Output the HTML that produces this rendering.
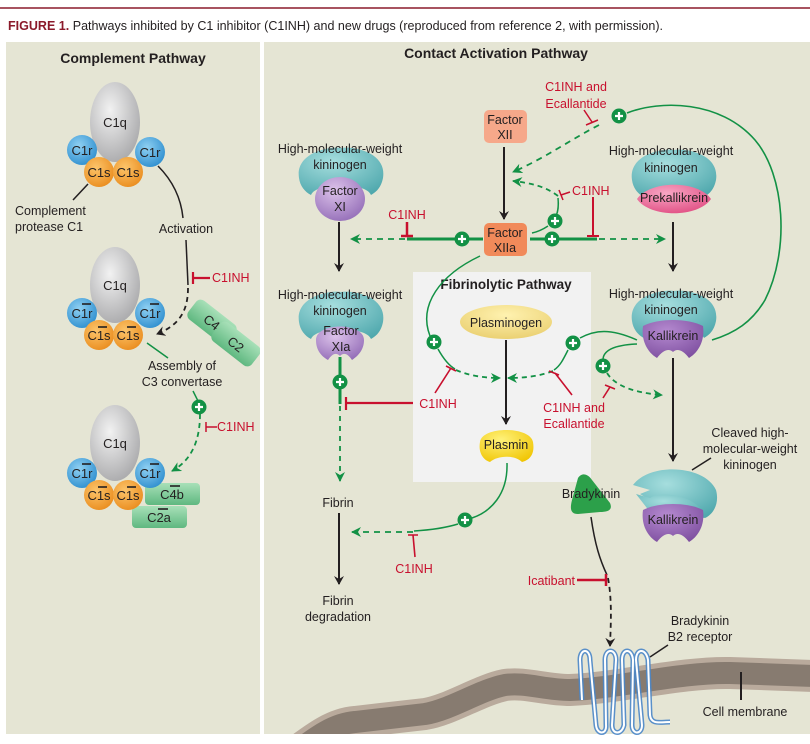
<!DOCTYPE html>
<html><head><meta charset="utf-8"><style>
html,body{margin:0;padding:0;background:#fff;}
svg{display:block;}
text{font-family:"Liberation Sans",sans-serif;fill:#231f20;}
.r{fill:#c8102e;}
</style></head><body>
<svg width="810" height="744" viewBox="0 0 810 744" xmlns="http://www.w3.org/2000/svg">
<defs>
<marker id="ak" markerWidth="10" markerHeight="10" refX="8" refY="5" orient="auto" markerUnits="userSpaceOnUse"><path d="M0,0 L9,5 L0,10 L3,5 Z" fill="#231f20"/></marker>
<marker id="ag" markerWidth="12" markerHeight="10" refX="9" refY="5" orient="auto" markerUnits="userSpaceOnUse"><path d="M0,0 L10,5 L0,10 L3,5 Z" fill="#129145"/></marker>
<radialGradient id="gq" cx="0.4" cy="0.35" r="0.7"><stop offset="0" stop-color="#f2f2f2"/><stop offset="1" stop-color="#a9a9ab"/></radialGradient>
<radialGradient id="gb" cx="0.4" cy="0.35" r="0.7"><stop offset="0" stop-color="#8fd0f2"/><stop offset="1" stop-color="#2f8fcf"/></radialGradient>
<radialGradient id="go" cx="0.4" cy="0.35" r="0.7"><stop offset="0" stop-color="#fcc46a"/><stop offset="1" stop-color="#ea8d1f"/></radialGradient>
<radialGradient id="gt" cx="0.4" cy="0.3" r="0.8"><stop offset="0" stop-color="#a6dede"/><stop offset="1" stop-color="#4fa8ad"/></radialGradient>
<radialGradient id="gp" cx="0.4" cy="0.3" r="0.8"><stop offset="0" stop-color="#dcc2ea"/><stop offset="1" stop-color="#9069b5"/></radialGradient>
<radialGradient id="gk" cx="0.4" cy="0.3" r="0.8"><stop offset="0" stop-color="#b58ad0"/><stop offset="1" stop-color="#7c4d9e"/></radialGradient>
<radialGradient id="gpk" cx="0.4" cy="0.3" r="0.8"><stop offset="0" stop-color="#f7a6c4"/><stop offset="1" stop-color="#e04a80"/></radialGradient>
<radialGradient id="gy" cx="0.5" cy="0.3" r="0.8"><stop offset="0" stop-color="#fff2b0"/><stop offset="1" stop-color="#e8cc6a"/></radialGradient>
<radialGradient id="gyy" cx="0.4" cy="0.3" r="0.8"><stop offset="0" stop-color="#fff27a"/><stop offset="1" stop-color="#f0c400"/></radialGradient>
<linearGradient id="gg" x1="0" y1="0" x2="0" y2="1"><stop offset="0" stop-color="#a8e0b8"/><stop offset="1" stop-color="#5fb880"/></linearGradient>
<g id="plus"><circle r="7.5" fill="#129145"/><path d="M-4,0 H4 M0,-4 V4" stroke="#fff" stroke-width="2.2"/></g>
<g id="teal"><path d="M-42,8 C-46,-18 -10,-24 0,-22 C12,-24 46,-18 42,8 C40,18 35,22 30,25 C25,12 -25,12 -30,25 C-36,22 -41,16 -42,8 Z" fill="url(#gt)"/></g>
<g id="kal"><path d="M-30,-14 C-15,-22 15,-22 30,-14 C32,0 26,12 16,18 C10,10 4,8 0,12 C-4,8 -10,10 -16,18 C-26,12 -32,0 -30,-14 Z" fill="url(#gk)"/></g>
</defs>

<line x1="0" y1="8" x2="810" y2="8" stroke="#8b1a2b" stroke-width="1.5"/>
<text x="8" y="30" font-size="13" textLength="655" lengthAdjust="spacingAndGlyphs"><tspan font-weight="bold" fill="#8b1a2b">FIGURE 1.</tspan> Pathways inhibited by C1 inhibitor (C1INH) and new drugs (reproduced from reference 2, with permission).</text>

<rect x="6" y="42" width="254" height="692" fill="#e5e5d4"/>
<rect x="264" y="42" width="546" height="692" fill="#e5e5d4"/>
<text x="133" y="63" font-size="14" font-weight="bold" text-anchor="middle">Complement Pathway</text>
<text x="496" y="58" font-size="14" font-weight="bold" text-anchor="middle">Contact Activation Pathway</text>

<g font-size="13" text-anchor="middle">
<ellipse cx="115" cy="122" rx="25" ry="40" fill="url(#gq)"/><text x="115" y="127">C1q</text>
<circle cx="82" cy="150" r="15" fill="url(#gb)"/><circle cx="150" cy="152" r="15" fill="url(#gb)"/>
<circle cx="99" cy="172" r="15" fill="url(#go)"/><circle cx="128" cy="172" r="15" fill="url(#go)"/>
<text x="82" y="155">C1r</text><text x="150" y="157">C1r</text><text x="99" y="177">C1s</text><text x="128" y="177">C1s</text>

<ellipse cx="115" cy="285" rx="25" ry="38" fill="url(#gq)"/><text x="115" y="290">C1q</text>
<circle cx="82" cy="313" r="15" fill="url(#gb)"/><circle cx="150" cy="313" r="15" fill="url(#gb)"/>
<circle cx="99" cy="335" r="15" fill="url(#go)"/><circle cx="128" cy="335" r="15" fill="url(#go)"/>
<text x="82" y="318">C1r</text><text x="150" y="318">C1r</text><text x="99" y="340">C1s</text><text x="128" y="340">C1s</text>
<g stroke="#231f20" stroke-width="1.6"><line x1="82" y1="304" x2="91" y2="304"/><line x1="150" y1="304" x2="159" y2="304"/><line x1="98" y1="327" x2="107" y2="327"/><line x1="127" y1="327" x2="136" y2="327"/></g>

<ellipse cx="115" cy="443" rx="25" ry="38" fill="url(#gq)"/><text x="115" y="448">C1q</text>
<rect x="145" y="483" width="55" height="22" rx="4" fill="url(#gg)"/>
<rect x="132" y="506" width="55" height="22" rx="4" fill="url(#gg)"/>
<circle cx="82" cy="473" r="15" fill="url(#gb)"/><circle cx="150" cy="473" r="15" fill="url(#gb)"/>
<circle cx="99" cy="495" r="15" fill="url(#go)"/><circle cx="128" cy="495" r="15" fill="url(#go)"/>
<text x="82" y="478">C1r</text><text x="150" y="478">C1r</text><text x="99" y="500">C1s</text><text x="128" y="500">C1s</text>
<text x="172" y="499">C4b</text><text x="159" y="522">C2a</text>
<g stroke="#231f20" stroke-width="1.6"><line x1="82" y1="464" x2="91" y2="464"/><line x1="150" y1="464" x2="159" y2="464"/><line x1="98" y1="487" x2="107" y2="487"/><line x1="127" y1="487" x2="136" y2="487"/><line x1="170" y1="486" x2="180" y2="486"/><line x1="158" y1="509" x2="168" y2="509"/></g>

<g transform="translate(212,322) rotate(38)"><rect x="-25" y="-12" width="50" height="24" rx="6" fill="url(#gg)"/><text x="0" y="5">C4</text></g>
<g transform="translate(236,344) rotate(38)"><rect x="-25" y="-12" width="50" height="24" rx="6" fill="url(#gg)"/><text x="0" y="5">C2</text></g>
</g>
<line x1="88" y1="184" x2="73" y2="200" stroke="#231f20" stroke-width="1.5"/>
<text x="15" y="215" font-size="12.5">Complement</text><text x="15" y="231" font-size="12.5">protease C1</text>
<path d="M158,166 C172,180 181,198 183,218" fill="none" stroke="#231f20" stroke-width="1.5"/>
<text x="186" y="233" font-size="12.5" text-anchor="middle">Activation</text>
<path d="M186,240 L188,285" fill="none" stroke="#231f20" stroke-width="1.5"/>
<path d="M188,288 C188,310 180,325 157,334" fill="none" stroke="#231f20" stroke-width="1.8" stroke-dasharray="5,4" marker-end="url(#ak)"/>
<path d="M193,272 V284 M193,278 H210" stroke="#c8102e" stroke-width="2.2"/>
<text x="212" y="282" font-size="12.5" class="r">C1INH</text>
<line x1="147" y1="343" x2="168" y2="358" stroke="#129145" stroke-width="1.5"/>
<text x="182" y="370" font-size="12.5" text-anchor="middle">Assembly of</text>
<text x="182" y="386" font-size="12.5" text-anchor="middle">C3 convertase</text>
<line x1="193" y1="391" x2="198" y2="401" stroke="#129145" stroke-width="1.5"/>
<path d="M200,414 C200,440 192,460 172,471" fill="none" stroke="#129145" stroke-width="1.8" stroke-dasharray="5,4" marker-end="url(#ag)"/>
<use href="#plus" x="199" y="407"/>
<path d="M206,422 V432 M206,427 H217" stroke="#c8102e" stroke-width="1.5"/>
<text x="217" y="431" font-size="12.5" class="r">C1INH</text>

<rect x="413" y="272" width="178" height="210" fill="#f2f2f2"/>
<text x="506" y="289" font-size="13.5" font-weight="bold" text-anchor="middle">Fibrinolytic Pathway</text>

<path d="M285,760 C310,742 330,724 355,722 L425,714 C450,710 480,690 505,685 C525,682 545,690 570,690 C620,688 680,672 730,673 L815,676" fill="none" stroke="#b9aa9c" stroke-width="32"/>
<path d="M285,760 C310,742 330,724 355,722 L425,714 C450,710 480,690 505,685 C525,682 545,690 570,690 C620,688 680,672 730,673 L815,676" fill="none" stroke="#877b70" stroke-width="22"/>
<rect x="0" y="734" width="810" height="10" fill="#fff"/>
<rect x="260" y="42" width="4" height="692" fill="#fff"/>
<path d="M582,700 L580,660 C580,648 590,648 590,660 L596,725 C597,735 607,735 606,725 L605,660 C605,648 616,648 616,660 L612,725 C612,735 622,735 624,725 L622,660 C622,648 632,648 633,660 L632,725 C632,735 642,735 642,725 L636,660 C636,648 646,648 648,660 L650,715 C651,725 660,722 670,722" fill="none" stroke="#4a86c8" stroke-width="5" opacity="0.9"/>
<path d="M582,700 L580,660 C580,648 590,648 590,660 L596,725 C597,735 607,735 606,725 L605,660 C605,648 616,648 616,660 L612,725 C612,735 622,735 624,725 L622,660 C622,648 632,648 633,660 L632,725 C632,735 642,735 642,725 L636,660 C636,648 646,648 648,660 L650,715 C651,725 660,722 670,722" fill="none" stroke="#fff" stroke-width="2"/>
<line x1="650" y1="657" x2="668" y2="645" stroke="#231f20" stroke-width="1.5"/>
<text x="700" y="625" font-size="12.5" text-anchor="middle">Bradykinin</text>
<text x="700" y="641" font-size="12.5" text-anchor="middle">B2 receptor</text>
<line x1="741" y1="672" x2="741" y2="700" stroke="#231f20" stroke-width="2"/>
<text x="745" y="716" font-size="12.5" text-anchor="middle">Cell membrane</text>

<rect x="484" y="110" width="43" height="33" rx="5" fill="#f6a88a"/>
<text x="505" y="124" font-size="12.5" text-anchor="middle">Factor</text><text x="505" y="139" font-size="12.5" text-anchor="middle">XII</text>
<line x1="504" y1="147" x2="504" y2="219" stroke="#231f20" stroke-width="2" marker-end="url(#ak)"/>
<rect x="484" y="223" width="43" height="33" rx="5" fill="#f18a5a"/>
<text x="505" y="237" font-size="12.5" text-anchor="middle">Factor</text><text x="505" y="252" font-size="12.5" text-anchor="middle">XIIa</text>

<line x1="407" y1="239" x2="483" y2="239" stroke="#129145" stroke-width="3"/>
<line x1="405" y1="239" x2="351" y2="239" stroke="#129145" stroke-width="1.8" stroke-dasharray="6,5" marker-end="url(#ag)"/>
<line x1="530" y1="239" x2="597" y2="239" stroke="#129145" stroke-width="3"/>
<line x1="599" y1="239" x2="665" y2="239" stroke="#129145" stroke-width="1.8" stroke-dasharray="6,5" marker-end="url(#ag)"/>
<use href="#plus" x="462" y="239"/><use href="#plus" x="552" y="239"/>
<path d="M407,222 V236 M401,236 H413" stroke="#c8102e" stroke-width="2.5"/>
<text x="407" y="219" font-size="12.5" class="r" text-anchor="middle">C1INH</text>
<path d="M593,197 V236 M587,236 H599" stroke="#c8102e" stroke-width="2"/>

<path d="M599,125 C570,140 545,158 513,172" fill="none" stroke="#129145" stroke-width="1.8" stroke-dasharray="6,5" marker-end="url(#ag)"/>
<path d="M558,196 C545,186 530,183 513,181" fill="none" stroke="#129145" stroke-width="1.8" stroke-dasharray="5,4" marker-end="url(#ag)"/>
<path d="M558,198 C559,208 557,214 556,216" fill="none" stroke="#129145" stroke-width="1.5"/>
<path d="M548,226 C542,230 537,232 532,233" fill="none" stroke="#129145" stroke-width="1.5"/>
<use href="#plus" x="555" y="221"/>
<path d="M561,195 L570,192 M559,190 L563,200" stroke="#c8102e" stroke-width="1.5"/>
<text x="572" y="195" font-size="12.5" class="r">C1INH</text>
<path d="M584,110 L592,122 M586,125 L598,120" stroke="#c8102e" stroke-width="1.5"/>
<text x="576" y="91" font-size="12.5" class="r" text-anchor="middle">C1INH and</text>
<text x="576" y="108" font-size="12.5" class="r" text-anchor="middle">Ecallantide</text>
<path d="M627,113 C660,100 720,100 755,140 C785,175 790,250 765,300 C752,322 735,333 712,340" fill="none" stroke="#129145" stroke-width="1.6"/>
<use href="#plus" x="619" y="116"/>

<use href="#teal" x="341" y="170"/>
<text x="340" y="153" font-size="12.5" text-anchor="middle">High-molecular-weight</text>
<text x="340" y="169" font-size="12.5" text-anchor="middle">kininogen</text>
<ellipse cx="340" cy="199" rx="25" ry="22" fill="url(#gp)"/>
<text x="340" y="195" font-size="12.5" text-anchor="middle">Factor</text><text x="340" y="211" font-size="12.5" text-anchor="middle">XI</text>
<line x1="339" y1="222" x2="339" y2="271" stroke="#231f20" stroke-width="2" marker-end="url(#ak)"/>
<use href="#teal" x="341" y="314"/>
<text x="340" y="299" font-size="12.5" text-anchor="middle">High-molecular-weight</text>
<text x="340" y="315" font-size="12.5" text-anchor="middle">kininogen</text>
<path d="M316,340 C316,322 364,322 364,340 C364,350 358,356 352,360 C348,354 344,352 340,356 C336,352 332,354 328,360 C321,356 316,350 316,340 Z" fill="url(#gp)"/>
<text x="341" y="335" font-size="12.5" text-anchor="middle">Factor</text><text x="341" y="351" font-size="12.5" text-anchor="middle">XIa</text>
<line x1="340" y1="357" x2="340" y2="404" stroke="#129145" stroke-width="3"/>
<line x1="340" y1="406" x2="340" y2="481" stroke="#129145" stroke-width="1.8" stroke-dasharray="5,5" marker-end="url(#ag)"/>
<use href="#plus" x="340" y="382"/>
<path d="M346,397 V410 M346,403 H413" stroke="#c8102e" stroke-width="2.2"/>
<text x="438" y="408" font-size="12.5" class="r" text-anchor="middle">C1INH</text>
<text x="338" y="507" font-size="12.5" text-anchor="middle">Fibrin</text>
<line x1="339" y1="513" x2="339" y2="584" stroke="#231f20" stroke-width="2" marker-end="url(#ak)"/>
<text x="338" y="605" font-size="12.5" text-anchor="middle">Fibrin</text>
<text x="338" y="621" font-size="12.5" text-anchor="middle">degradation</text>

<use href="#teal" x="674" y="172"/>
<text x="671" y="155" font-size="12.5" text-anchor="middle">High-molecular-weight</text>
<text x="671" y="172" font-size="12.5" text-anchor="middle">kininogen</text>
<path d="M637,199 C650,180 698,180 711,199 C698,218 650,218 637,199 Z" fill="url(#gpk)"/>
<text x="674" y="202" font-size="12.5" text-anchor="middle">Prekallikrein</text>
<line x1="673" y1="222" x2="673" y2="271" stroke="#231f20" stroke-width="2" marker-end="url(#ak)"/>
<use href="#teal" x="674" y="313"/>
<text x="671" y="298" font-size="12.5" text-anchor="middle">High-molecular-weight</text>
<text x="671" y="314" font-size="12.5" text-anchor="middle">kininogen</text>
<use href="#kal" x="673" y="340"/>
<text x="673" y="340" font-size="12.5" text-anchor="middle">Kallikrein</text>
<line x1="673" y1="358" x2="673" y2="461" stroke="#231f20" stroke-width="2" marker-end="url(#ak)"/>

<path d="M633,485 C650,462 705,465 716,490 C720,505 712,515 705,518 C700,502 680,495 650,500 L640,494 L650,490 L633,485 Z" fill="url(#gt)"/>
<path d="M636,494 L650,498 C660,490 700,495 705,518 L650,512 Z" fill="url(#gt)"/>
<use href="#kal" x="673" y="524"/>
<text x="673" y="524" font-size="12.5" text-anchor="middle">Kallikrein</text>
<line x1="692" y1="470" x2="711" y2="458" stroke="#231f20" stroke-width="1.5"/>
<text x="750" y="437" font-size="12.5" text-anchor="middle">Cleaved high-</text>
<text x="750" y="453" font-size="12.5" text-anchor="middle">molecular-weight</text>
<text x="750" y="469" font-size="12.5" text-anchor="middle">kininogen</text>

<path d="M578,478 C582,472 588,474 592,480 L610,503 C613,510 608,512 600,512 L578,514 C570,514 570,508 572,500 Z" fill="#2ca04a"/>
<text x="591" y="498" font-size="12.5" text-anchor="middle">Bradykinin</text>
<path d="M591,517 C595,545 600,560 607,575" fill="none" stroke="#231f20" stroke-width="1.5"/>
<path d="M608,578 C612,600 611,620 610,646" fill="none" stroke="#231f20" stroke-width="1.8" stroke-dasharray="5,4" marker-end="url(#ak)"/>
<path d="M577,580 H606 M606,574 V586" stroke="#c8102e" stroke-width="2.5"/>
<text x="575" y="585" font-size="12.5" class="r" text-anchor="end">Icatibant</text>

<ellipse cx="506" cy="322" rx="46" ry="17" fill="url(#gy)"/>
<text x="506" y="327" font-size="12.5" text-anchor="middle">Plasminogen</text>
<line x1="506" y1="340" x2="506" y2="424" stroke="#231f20" stroke-width="2" marker-end="url(#ak)"/>
<path d="M480,442 C482,426 530,426 533,442 C535,454 530,460 522,462 C515,455 498,455 490,462 C483,460 478,452 480,442 Z" fill="url(#gyy)"/>
<text x="506" y="449" font-size="12.5" text-anchor="middle">Plasmin</text>
<path d="M480,256 C440,275 418,305 430,336" fill="none" stroke="#129145" stroke-width="1.5"/>
<use href="#plus" x="434" y="342"/>
<path d="M438,349 C443,358 448,365 455,369" fill="none" stroke="#129145" stroke-width="1.5"/>
<path d="M456,370 C470,376 485,378 500,378" fill="none" stroke="#129145" stroke-width="1.8" stroke-dasharray="5,4" marker-end="url(#ag)"/>
<path d="M446,366 L456,371 M451,368 L435,393" stroke="#c8102e" stroke-width="1.6"/>
<path d="M637,340 C610,328 595,330 580,338" fill="none" stroke="#129145" stroke-width="1.5"/>
<use href="#plus" x="573" y="343"/>
<path d="M568,350 C563,360 560,366 554,370" fill="none" stroke="#129145" stroke-width="1.5"/>
<path d="M553,371 C540,376 525,378 508,378" fill="none" stroke="#129145" stroke-width="1.8" stroke-dasharray="5,4" marker-end="url(#ag)"/>
<path d="M549,371 L559,375 M555,373 L572,395" stroke="#c8102e" stroke-width="1.6"/>
<text x="574" y="412" font-size="12.5" class="r" text-anchor="middle">C1INH and</text>
<text x="574" y="428" font-size="12.5" class="r" text-anchor="middle">Ecallantide</text>
<path d="M637,344 C615,345 603,350 603,360" fill="none" stroke="#129145" stroke-width="1.5"/>
<use href="#plus" x="603" y="366"/>
<path d="M607,373 C615,386 635,393 662,395" fill="none" stroke="#129145" stroke-width="1.8" stroke-dasharray="5,4" marker-end="url(#ag)"/>
<path d="M605,385 L615,389 M610,387 L603,398" stroke="#c8102e" stroke-width="1.6"/>
<path d="M507,463 C508,495 490,512 472,518" fill="none" stroke="#129145" stroke-width="1.5"/>
<use href="#plus" x="465" y="520"/>
<path d="M458,524 C445,528 430,530 414,531" fill="none" stroke="#129145" stroke-width="1.5"/>
<line x1="413" y1="532" x2="352" y2="532" stroke="#129145" stroke-width="1.8" stroke-dasharray="6,5" marker-end="url(#ag)"/>
<path d="M408,535 H418 M413,535 L415,557" stroke="#c8102e" stroke-width="1.6"/>
<text x="414" y="573" font-size="12.5" class="r" text-anchor="middle">C1INH</text>
</svg>
</body></html>
